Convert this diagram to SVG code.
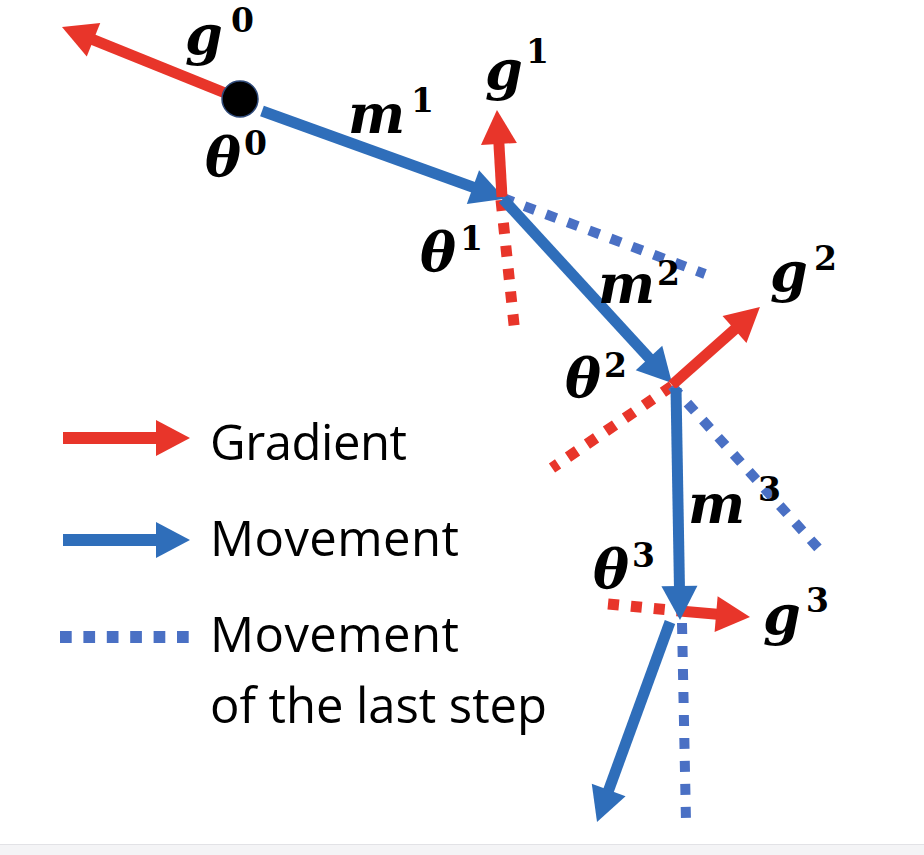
<svg xmlns="http://www.w3.org/2000/svg" width="924" height="855" viewBox="0 0 924 855">
<style>
.red{stroke:#E8352A;stroke-width:11;fill:none}
.blue{stroke:#2F6EBA;stroke-width:11;fill:none}
.rdot{stroke:#E8352A;stroke-width:11;stroke-dasharray:11 12;fill:none}
.bdot{stroke:#4A70C4;stroke-width:10;stroke-dasharray:11 12;fill:none}
.math{font-family:"DejaVu Serif","Liberation Serif",serif;font-weight:bold;font-style:italic;font-size:54px;fill:#000}
.sup{font-family:"DejaVu Serif","Liberation Serif",serif;font-weight:bold;font-size:33px;fill:#000}
.leg{font-family:"Open Sans","Noto Sans","Liberation Sans",sans-serif;font-size:49px;fill:#000}
</style>
<defs>
<marker id="ah-red" markerUnits="userSpaceOnUse" markerWidth="34" markerHeight="36" refX="4" refY="18" orient="auto" overflow="visible">
<path d="M0,0 L34,18 L0,36 Z" fill="#E8352A"/>
</marker>
<marker id="ah-blue" markerUnits="userSpaceOnUse" markerWidth="34" markerHeight="36" refX="4" refY="18" orient="auto" overflow="visible">
<path d="M0,0 L34,18 L0,36 Z" fill="#2F6EBA"/>
</marker>
</defs>
<rect width="924" height="855" fill="#fff"/>
<rect x="0" y="844" width="924" height="11" fill="#F4F4F6"/>
<line x1="0" y1="844.5" x2="924" y2="844.5" stroke="#E2E2E6" stroke-width="1"/>
<g id="connectors">
<line class="bdot" x1="503" y1="198" x2="705" y2="274"/>
<line class="rdot" x1="501" y1="200" x2="515" y2="334"/>
<line class="rdot" x1="672" y1="386" x2="552" y2="468"/>
<line class="bdot" x1="672" y1="386" x2="818" y2="548"/>
<line class="rdot" x1="608" y1="604" x2="680" y2="611"/>
<line class="bdot" x1="682" y1="623" x2="686" y2="822"/>
<line id="g0" class="red" x1="240" y1="99" x2="89.8" y2="38.3" marker-end="url(#ah-red)"/>
<line id="m1" class="blue" x1="262" y1="111" x2="476.7" y2="188.5" marker-end="url(#ah-blue)"/>
<line id="g1" class="red" x1="502" y1="197" x2="498.7" y2="140" marker-end="url(#ah-red)"/>
<line id="m2" class="blue" x1="503" y1="199" x2="651.7" y2="360.9" marker-end="url(#ah-blue)"/>
<line id="g2" class="red" x1="672" y1="385" x2="737.5" y2="326.9" marker-end="url(#ah-red)"/>
<line id="g3" class="red" x1="680" y1="611" x2="720.1" y2="614.4" marker-end="url(#ah-red)"/>
<line id="m3" class="blue" x1="676" y1="388" x2="679.5" y2="590" marker-end="url(#ah-blue)"/>
<line id="m4" class="blue" x1="670" y1="622" x2="607.3" y2="793.8" marker-end="url(#ah-blue)"/>
</g>
<g id="theta0-point">
<circle cx="240" cy="99" r="18" fill="#000" stroke="#2F4A7A" stroke-width="1.5"/>
</g>
<g id="labels">
<text class="math" x="185" y="54">g</text><text class="sup" x="231" y="32">0</text>
<text class="math" x="205" y="176">θ</text><text class="sup" x="244" y="155">0</text>
<text class="math" x="348" y="133">m</text><text class="sup" x="411" y="112">1</text>
<text class="math" x="485" y="89">g</text><text class="sup" x="526" y="63">1</text>
<text class="math" x="420" y="271">θ</text><text class="sup" x="460" y="250">1</text>
<text class="math" x="598" y="303">m</text><text class="sup" x="657" y="285">2</text>
<text class="math" x="770" y="291">g</text><text class="sup" x="814" y="270">2</text>
<text class="math" x="565" y="397">θ</text><text class="sup" x="604" y="377">2</text>
<text class="math" x="688" y="523">m</text><text class="sup" x="758" y="501">3</text>
<text class="math" x="593" y="588">θ</text><text class="sup" x="632" y="567">3</text>
<text class="math" x="763" y="634">g</text><text class="sup" x="806" y="612">3</text>
</g>
<g id="legend">
<line x1="63" y1="438" x2="160" y2="438" stroke="#E8352A" stroke-width="12" marker-end="url(#ah-red)"/>
<text class="leg" x="210" y="460" textLength="197">Gradient</text>
<line x1="63" y1="540" x2="160" y2="540" stroke="#2F6EBA" stroke-width="12" marker-end="url(#ah-blue)"/>
<text class="leg" x="210" y="556" textLength="249">Movement</text>
<line x1="60" y1="637" x2="190" y2="637" stroke="#4A70C4" stroke-width="12" stroke-dasharray="11.7 11.7"/>
<text class="leg" x="210" y="652" textLength="249">Movement</text>
<text class="leg" x="210" y="723" textLength="337">of the last step</text>
</g>
</svg>
